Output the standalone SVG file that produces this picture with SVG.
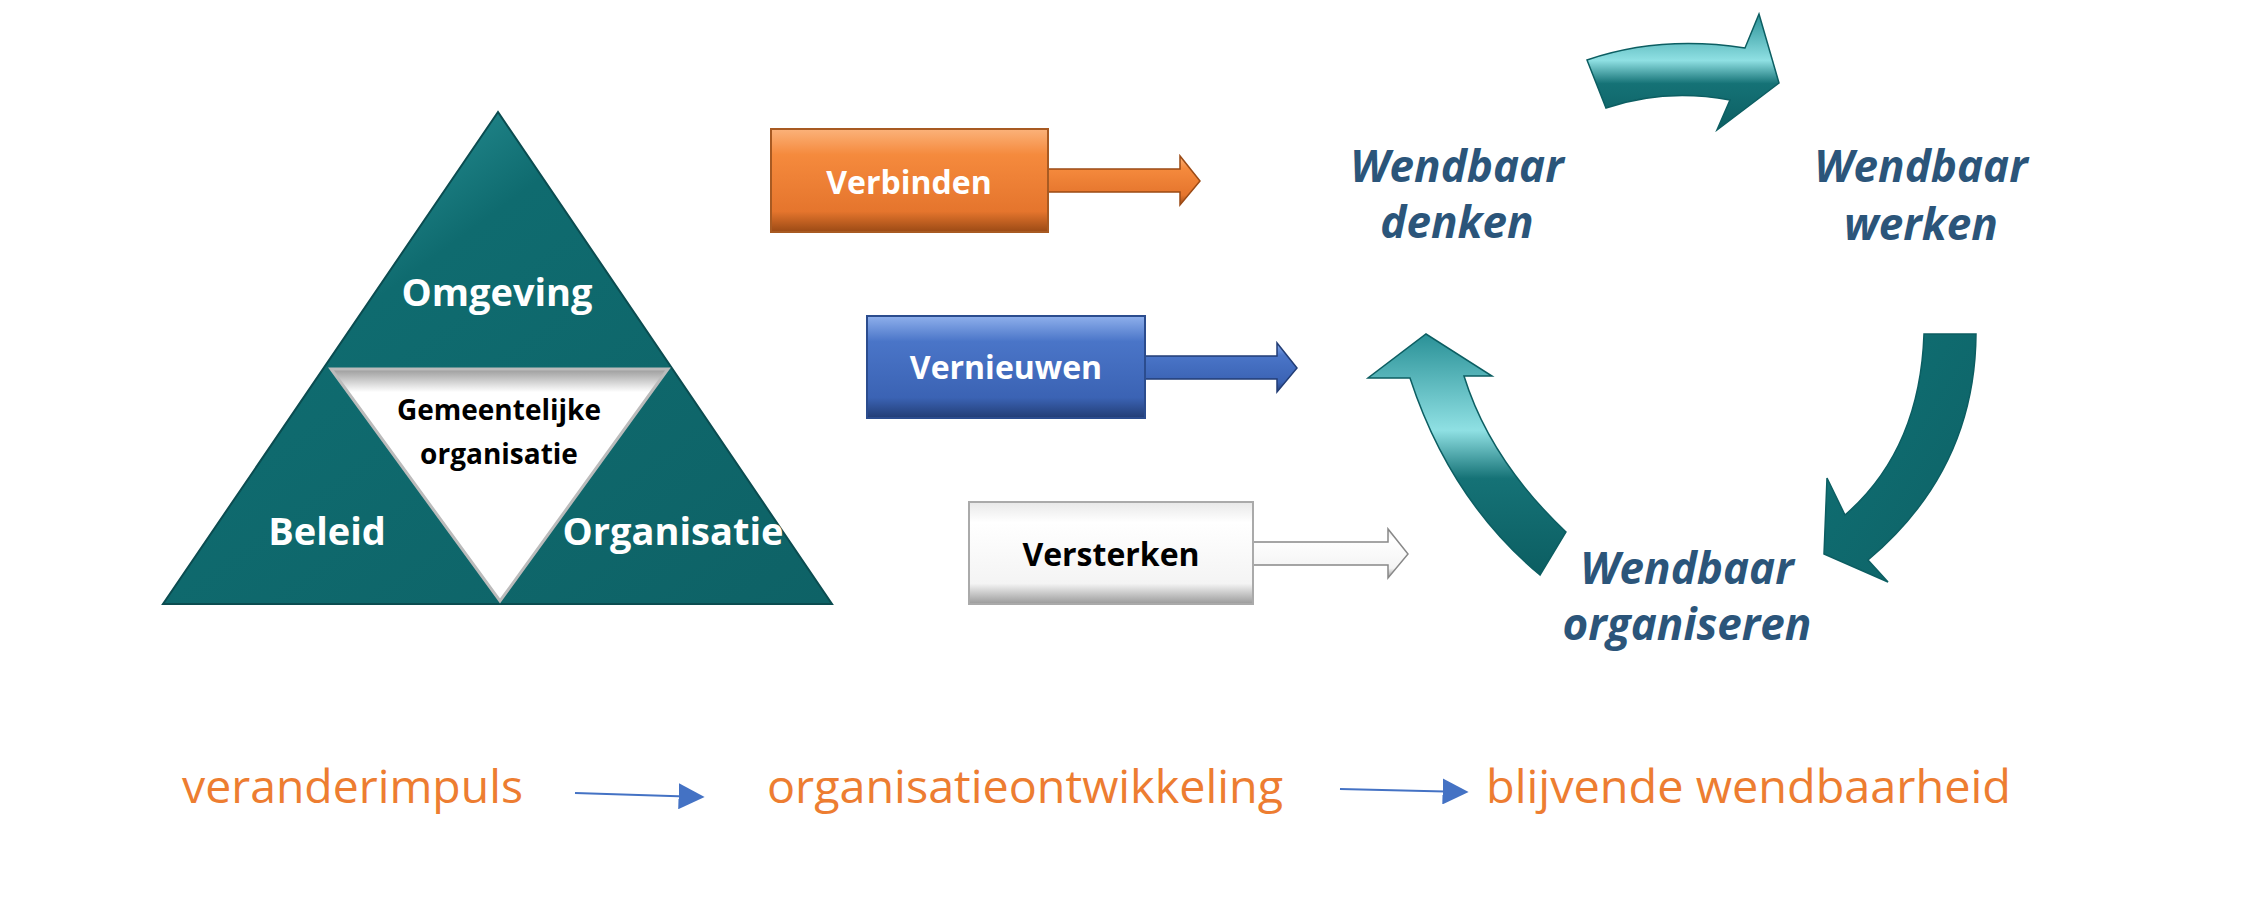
<svg xmlns="http://www.w3.org/2000/svg" width="2247" height="897" viewBox="0 0 2247 897">
<defs>
<linearGradient id="teal" x1="0" y1="0" x2="1" y2="1"><stop offset="0" stop-color="#3fb3b8"/><stop offset="0.35" stop-color="#0f6b6f"/><stop offset="1" stop-color="#0e6266"/></linearGradient>
<linearGradient id="tealArrow" x1="0" y1="0" x2="0" y2="1"><stop offset="0" stop-color="#2a9197"/><stop offset="0.4" stop-color="#8fe0e3"/><stop offset="0.6" stop-color="#157276"/><stop offset="1" stop-color="#0c5e62"/></linearGradient>
<linearGradient id="orange" x1="0" y1="0" x2="0" y2="1"><stop offset="0" stop-color="#fbb27a"/><stop offset="0.25" stop-color="#f58a3d"/><stop offset="0.8" stop-color="#e5752d"/><stop offset="1" stop-color="#9b4a15"/></linearGradient>
<linearGradient id="blue" x1="0" y1="0" x2="0" y2="1"><stop offset="0" stop-color="#8fb0ec"/><stop offset="0.25" stop-color="#4a75c8"/><stop offset="0.8" stop-color="#3b63b4"/><stop offset="1" stop-color="#223d75"/></linearGradient>
<linearGradient id="white" x1="0" y1="0" x2="0" y2="1"><stop offset="0" stop-color="#e8e8e8"/><stop offset="0.2" stop-color="#ffffff"/><stop offset="0.8" stop-color="#f4f4f4"/><stop offset="1" stop-color="#9a9a9a"/></linearGradient>
<linearGradient id="inner" x1="0" y1="0" x2="0" y2="1"><stop offset="0" stop-color="#9a9a9a"/><stop offset="0.1" stop-color="#ffffff"/><stop offset="1" stop-color="#ffffff"/></linearGradient>
<marker id="bh" viewBox="0 0 10 10" markerWidth="26" markerHeight="26" refX="9" refY="5" orient="auto" markerUnits="userSpaceOnUse"><path d="M0,0 L10,5 L0,10 Z" fill="#4472c4"/></marker>
</defs>
<style>
.lbl{font-family:"Open Sans","Liberation Sans",sans-serif;font-weight:bold;fill:#fff;text-anchor:middle}
.cyc{font-family:"Open Sans","Liberation Sans",sans-serif;font-weight:bold;font-style:italic;fill:#2b557a;font-size:44px;text-anchor:middle}
.bot{font-family:"Open Sans","Liberation Sans",sans-serif;font-weight:normal;fill:#ed7d31;font-size:46px}
</style>
<rect width="2247" height="897" fill="#fff"/>
<g id="triangle">
<polygon points="498,112 163,604 832,604" fill="url(#teal)" stroke="#0b4c50" stroke-width="2"/>
<polygon points="331,369 668,369 500,601" fill="url(#inner)" stroke="#bbbbbb" stroke-width="3"/>
<text class="lbl" x="497" y="306" font-size="38">Omgeving</text>
<text class="lbl" x="499" y="420" font-size="28" style="fill:#000">Gemeentelijke</text>
<text class="lbl" x="499" y="464" font-size="28" style="fill:#000">organisatie</text>
<text class="lbl" x="327" y="545" font-size="38">Beleid</text>
<text class="lbl" x="673" y="545" font-size="38">Organisatie</text>
</g>
<g id="verbinden">
<path d="M1040,169 L1180,169 L1180,156 L1200,181 L1180,205 L1180,192 L1040,192 Z" fill="url(#orange)" stroke="#9b4a15" stroke-width="1.5"/>
<rect x="771" y="129" width="277" height="103" fill="url(#orange)" stroke="#a85a22" stroke-width="2"/>
<text class="lbl" x="909" y="194" font-size="32">Verbinden</text>
</g>
<g id="vernieuwen">
<path d="M1137,356 L1277,356 L1277,343 L1297,368 L1277,392 L1277,379 L1137,379 Z" fill="url(#blue)" stroke="#223d75" stroke-width="1.5"/>
<rect x="867" y="316" width="278" height="102" fill="url(#blue)" stroke="#2b4c8e" stroke-width="2"/>
<text class="lbl" x="1006" y="379" font-size="32">Vernieuwen</text>
</g>
<g id="versterken">
<path d="M1245,542 L1388,542 L1388,529 L1408,554 L1388,578 L1388,565 L1245,565 Z" fill="url(#white)" stroke="#888" stroke-width="1.5"/>
<rect x="969" y="502" width="284" height="102" fill="url(#white)" stroke="#aaa" stroke-width="2"/>
<text class="lbl" x="1111" y="566" font-size="32" style="fill:#000">Versterken</text>
</g>
<g id="cycle-arrows">
<path d="M1587,60 Q1660,35 1745,48 L1759,14 L1779,83 L1717,130 L1730,100 Q1665,88 1606,108 Z" fill="url(#tealArrow)" stroke="#0c5e62" stroke-width="1.5"/>
<path d="M1924,334 L1976,334 Q1975,470 1868,560 L1888,582 L1824,554 L1827,478 L1845,515 Q1920,450 1924,334 Z" fill="url(#teal)" stroke="#0c5e62" stroke-width="1.5"/>
<path d="M1540,575 Q1450,500 1410,378 L1368,378 L1426,334 L1492,376 L1464,376 Q1490,460 1566,532 Z" fill="url(#tealArrow)" stroke="#0c5e62" stroke-width="1.5"/>
</g>
<g id="wendbaar-denken"><text class="cyc" x="1457" y="182">Wendbaar</text><text class="cyc" x="1457" y="238">denken</text></g>
<g id="wendbaar-werken"><text class="cyc" x="1921" y="182">Wendbaar</text><text class="cyc" x="1921" y="240">werken</text></g>
<g id="wendbaar-organiseren"><text class="cyc" x="1687" y="584">Wendbaar</text><text class="cyc" x="1687" y="640">organiseren</text></g>
<g id="bottom">
<text class="bot" x="182" y="803" textLength="341" lengthAdjust="spacingAndGlyphs">veranderimpuls</text>
<text class="bot" x="767" y="803" textLength="516" lengthAdjust="spacingAndGlyphs">organisatieontwikkeling</text>
<text class="bot" x="1486" y="803" textLength="525" lengthAdjust="spacingAndGlyphs">blijvende wendbaarheid</text>
</g>
<g id="connectors">
<line x1="575" y1="793" x2="702" y2="797" stroke="#4472c4" stroke-width="2" marker-end="url(#bh)"/>
<line x1="1340" y1="789" x2="1466" y2="792" stroke="#4472c4" stroke-width="2" marker-end="url(#bh)"/>
</g>
</svg>
